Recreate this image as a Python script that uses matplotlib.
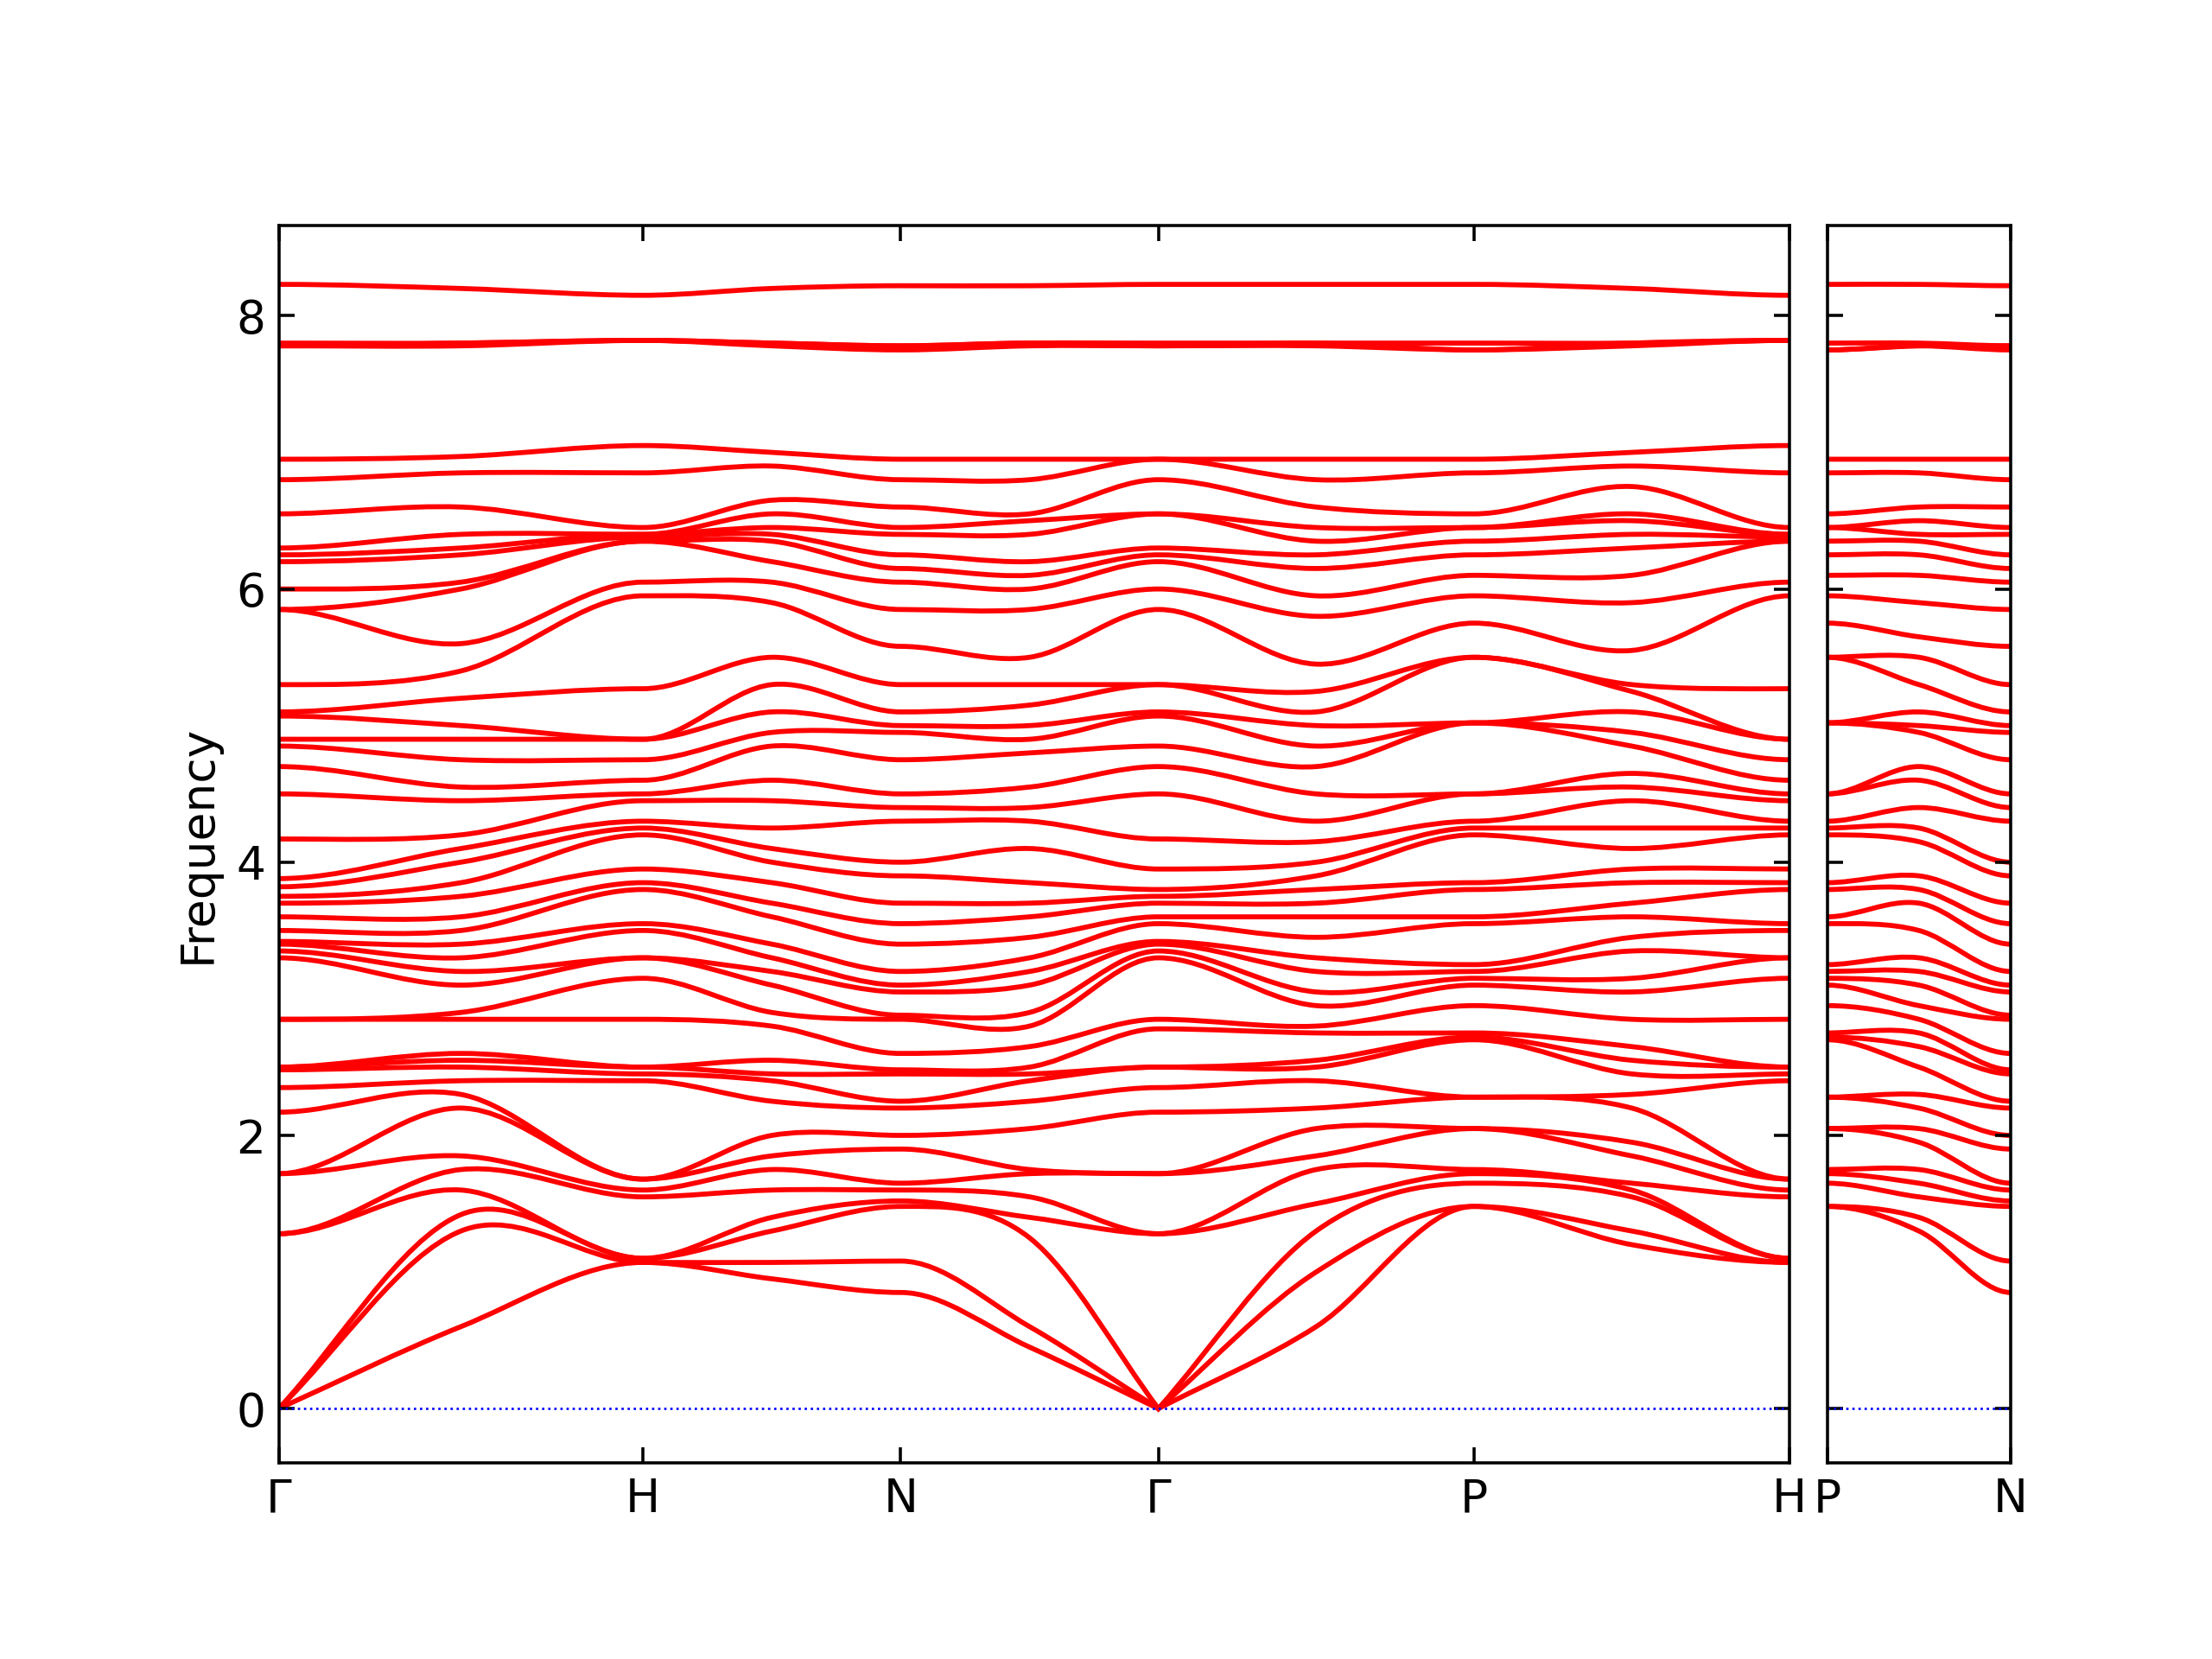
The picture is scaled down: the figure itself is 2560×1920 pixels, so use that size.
import numpy as np
import matplotlib
matplotlib.use("Agg")
import matplotlib.pyplot as plt
from matplotlib.path import Path
from matplotlib.patches import PathPatch

seg_len = [1.0, 0.7071, 0.7071, 0.866, 0.866]
labels_left = ["Γ", "H", "N", "Γ", "P", "H"]
labels_right = ["P", "N"]

G1 = [0,0,0,1.28,1.28,1.72,1.72,2.17,2.35,2.48,2.5,2.5,2.85,2.85,3.3,3.35,3.4,3.42,3.5,3.6,3.7,3.75,3.82,3.88,4.17,4.5,4.7,4.85,4.9,5.07,5.1,5.3,5.85,5.85,6.0,6.2,6.25,6.3,6.55,6.8,6.95,7.78,7.78,7.8,8.23]
GH = [0.6,1.3,1.42,1.6,1.75,1.85,2.2,2.3,2.4,2.5,2.55,2.6,2.85,2.9,3.1,3.2,3.3,3.4,3.5,3.6,3.75,3.85,4.0,4.1,4.2,4.45,4.55,4.75,4.9,5.0,5.2,5.4,5.6,6.0,6.05,6.25,6.3,6.4,6.6,6.85,6.97,7.78,7.8,7.8,8.2]
H = [1.07,1.07,1.1,1.1,1.55,1.6,1.68,1.68,2.4,2.45,2.5,2.5,2.85,3.15,3.3,3.3,3.5,3.55,3.8,3.85,3.95,4.2,4.25,4.3,4.45,4.5,4.6,4.75,4.9,4.9,5.27,5.95,6.05,6.35,6.35,6.38,6.4,6.4,6.45,6.85,7.05,7.82,7.82,7.82,8.15]
HN = [0.95,1.07,1.3,1.4,1.6,1.75,1.85,2.0,2.25,2.4,2.45,2.55,2.8,2.9,3.1,3.2,3.3,3.4,3.6,3.7,3.85,4.0,4.1,4.25,4.45,4.6,4.85,4.95,5.1,5.3,5.5,5.9,6.05,6.2,6.35,6.4,6.45,6.55,6.65,6.9,7.0,7.78,7.8,7.8,8.2]
N = [0.85,1.08,1.48,1.52,1.6,1.65,1.9,2.0,2.2,2.25,2.45,2.48,2.6,2.85,2.88,3.05,3.1,3.2,3.4,3.55,3.7,3.9,4.0,4.3,4.4,4.5,4.75,4.95,5.0,5.1,5.3,5.58,5.85,6.05,6.15,6.25,6.4,6.45,6.6,6.8,6.95,7.75,7.78,7.78,8.22]
NG = [0.45,0.6,1.25,1.4,1.55,1.72,1.75,2.05,2.25,2.4,2.45,2.5,2.65,2.8,2.9,3.1,3.2,3.3,3.45,3.6,3.7,3.85,4.1,4.3,4.4,4.55,4.8,4.9,5.0,5.15,5.3,5.5,5.85,6.0,6.1,6.2,6.4,6.5,6.55,6.8,6.95,7.78,7.8,7.8,8.22]
G2 = [0,0,0,1.28,1.28,1.72,1.72,2.17,2.35,2.5,2.5,2.78,2.85,3.3,3.35,3.4,3.42,3.55,3.6,3.7,3.75,3.8,3.95,4.17,4.5,4.7,4.85,5.07,5.1,5.3,5.3,5.85,6.0,6.2,6.25,6.3,6.55,6.55,6.8,6.95,6.95,7.78,7.78,7.8,8.23]
GP = [0.6,1.0,1.3,1.5,1.75,1.85,2.05,2.2,2.4,2.5,2.55,2.75,2.8,2.95,3.05,3.2,3.3,3.45,3.6,3.7,3.8,3.9,4.0,4.15,4.3,4.5,4.7,4.85,5.0,5.1,5.25,5.45,5.8,5.95,6.15,6.25,6.35,6.45,6.6,6.8,6.95,7.78,7.8,7.8,8.23]
P = [1.48,1.48,1.65,1.72,1.75,2.05,2.05,2.28,2.28,2.7,2.72,2.75,2.95,3.1,3.15,3.2,3.25,3.55,3.6,3.8,3.85,4.2,4.25,4.3,4.5,4.5,5.02,5.02,5.02,5.5,5.5,5.75,5.95,6.1,6.25,6.35,6.45,6.45,6.55,6.85,6.95,7.75,7.75,7.8,8.23]
PH = [1.2,1.3,1.55,1.6,1.65,1.85,1.95,2.2,2.3,2.45,2.55,2.65,2.85,3.05,3.15,3.35,3.45,3.6,3.7,3.85,3.95,4.1,4.25,4.45,4.55,4.65,4.85,4.95,5.1,5.25,5.3,5.55,5.9,6.1,6.3,6.4,6.5,6.55,6.75,6.9,7.0,7.78,7.8,7.8,8.2]
PN = [1.3,1.4,1.55,1.65,1.75,1.95,2.05,2.2,2.3,2.5,2.65,2.75,2.85,2.95,3.1,3.2,3.3,3.5,3.7,3.8,3.9,4.15,4.25,4.4,4.6,4.7,4.95,5.0,5.1,5.3,5.5,5.65,5.9,6.1,6.25,6.35,6.4,6.5,6.6,6.85,6.95,7.78,7.78,7.8,8.23]

left_nodes = [G1, GH, H, HN, N, NG, G2, GP, P, PH, H]
right_nodes = [P, PN, N]

sym = np.concatenate([[0], np.cumsum(seg_len)])
kl = []
for i in range(len(seg_len)):
    kl += [sym[i], (sym[i] + sym[i+1]) / 2]
kl.append(sym[-1])
kr = [0, 0.25, 0.5]


def smooth_path(x, y):
    """Cubic Bezier through the read points; flat at symmetry points (even index)."""
    x = np.asarray(x, float); y = np.asarray(y, float)
    n = len(x)
    slope = np.zeros(n)
    for i in range(n):
        if i % 2 == 1:
            slope[i] = (y[i+1] - y[i-1]) / (x[i+1] - x[i-1])
    verts = [(x[0], y[0])]
    codes = [Path.MOVETO]
    for i in range(n - 1):
        h = x[i+1] - x[i]
        s0 = (y[i+1] - y[i]) / h if (y[i] == 0 and i % 2 == 0) else slope[i]
        s1 = (y[i+1] - y[i]) / h if (y[i+1] == 0 and (i+1) % 2 == 0) else slope[i+1]
        verts += [(x[i] + h/3, y[i] + s0*h/3), (x[i+1] - h/3, y[i+1] - s1*h/3), (x[i+1], y[i+1])]
        codes += [Path.CURVE4] * 3
    return Path(verts, codes)


fig = plt.figure(figsize=(8, 6), dpi=320)
ax1 = fig.add_axes([0.126, 0.118, 0.683, 0.746])
ax2 = fig.add_axes([0.826, 0.118, 0.083, 0.746])

Ll = np.array(left_nodes)
Lr = np.array(right_nodes)
for b in range(Ll.shape[1]):
    ax1.add_patch(PathPatch(smooth_path(kl, Ll[:, b]), fc="none", ec="red", lw=1.3))
for b in range(Lr.shape[1]):
    ax2.add_patch(PathPatch(smooth_path(kr, Lr[:, b]), fc="none", ec="red", lw=1.3))

for ax, xs, labs in [(ax1, sym, labels_left), (ax2, [0, 0.5], labels_right)]:
    ax.axhline(0, color="blue", ls=":", lw=0.6)
    ax.set_xlim(xs[0], xs[-1])
    ax.set_ylim(-0.4, 8.66)
    ax.set_xticks(xs)
    ax.set_xticklabels(labs, fontsize=12)
    ax.tick_params(direction="in", top=True, right=True, length=4, labelsize=12)
    ax.set_yticks([0, 2, 4, 6, 8])
ax2.set_yticklabels([])
ax1.set_ylabel("Frequency", fontsize=12)
fig.savefig("out.png", dpi=320)
